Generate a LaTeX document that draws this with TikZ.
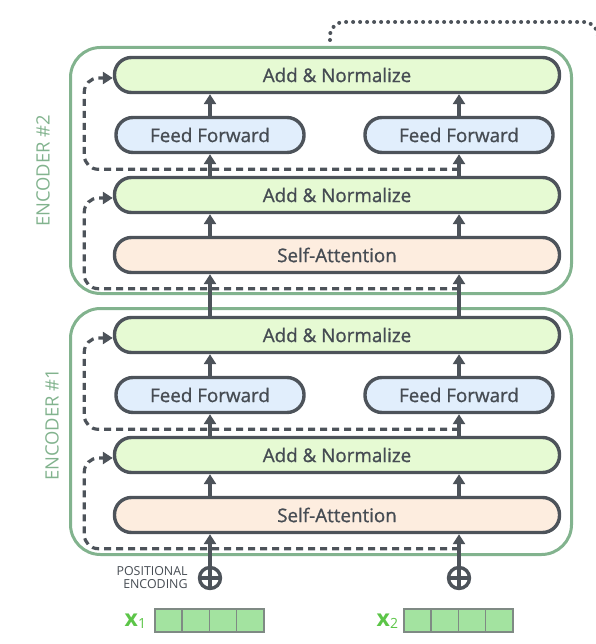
\documentclass[tikz,border=0pt]{standalone}
\usepackage{fontspec}
\setmainfont{Open Sans}
\newfontfamily\boxfont[FakeBold=1]{Open Sans}
\usetikzlibrary{arrows.meta}
\definecolor{boxline}{HTML}{4D535A}
\definecolor{boxtext}{HTML}{464C53}
\definecolor{anfill}{HTML}{E6FAD3}
\definecolor{fffill}{HTML}{E1EEFC}
\definecolor{safill}{HTML}{FDEDDF}
\definecolor{encgreen}{HTML}{82B38E}
\definecolor{xgreen}{HTML}{5CC548}
\definecolor{cellfill}{HTML}{A3E3A0}
\definecolor{cellline}{HTML}{7F8A84}
\begin{document}
\begin{tikzpicture}[x=1pt, y=-1pt, node distance=60pt, >={Triangle[length=10pt,width=12pt]},
  block/.style={rectangle, rounded corners=17pt, minimum height=35pt, text centered, draw=boxline, line width=3.4pt, text=boxtext, font=\boxfont\fontsize{18.8}{20}\selectfont},
  addnorm/.style={block, minimum width=445pt, fill=anfill},
  selfatt/.style={block, minimum width=445pt, fill=safill},
  ffwd/.style={block, minimum width=188pt, fill=fffill},
  encoder/.style={rectangle, rounded corners=30pt, minimum width=501pt, minimum height=246pt, draw=encgreen, line width=3pt},
  enclabel/.style={text=encgreen, rotate=90, font=\fontsize{18.4}{20}\selectfont},
  flow/.style={->, line width=3.4pt, draw=boxline},
  resid/.style={->, line width=3.2pt, draw=boxline, dash pattern=on 7pt off 5pt, rounded corners=14pt},
  posenc/.style={circle, draw=boxline, line width=3.4pt, inner sep=0pt, minimum size=21pt},
  cell/.style={rectangle, draw=cellline, fill=cellfill, line width=1.5pt, minimum width=27.25pt, minimum height=23pt, inner sep=0pt},
  vecname/.style={text=xgreen, inner sep=0pt, anchor=east}]
\useasboundingbox (0,0) rectangle (595,644);

% Рамки энкодеров
\node (enc2) [encoder] at (321,170.5) {};
\node (enc1) [encoder] at (321,431.5) {};
\node (enc2lbl) [enclabel] at (43,171) {ENCODER \#2};
\node (enc1lbl) [enclabel] at (52,425) {ENCODER \#1};

% Энкодер 2
\node (an2t) [addnorm] at (337,75) {Add \& Normalize};
\node (ff2a) [ffwd, below of=an2t, xshift=-127pt] {Feed Forward};
\node (ff2b) [ffwd, below of=an2t, xshift=122pt] {Feed Forward};
\node (an2b) [addnorm, below of=an2t, node distance=120pt] {Add \& Normalize};
\node (sa2) [selfatt, below of=an2b] {Self-Attention};

% Энкодер 1
\node (an1t) [addnorm, below of=sa2, node distance=80pt] {Add \& Normalize};
\node (ff1a) [ffwd, below of=an1t, xshift=-127pt] {Feed Forward};
\node (ff1b) [ffwd, below of=an1t, xshift=122pt] {Feed Forward};
\node (an1b) [addnorm, below of=an1t, node distance=120pt] {Add \& Normalize};
\node (sa1) [selfatt, below of=an1b] {Self-Attention};

% Входы
\node (pe1) [posenc, below of=sa1, node distance=63pt, xshift=-127pt] {};
\node (pe2) [posenc, below of=sa1, node distance=63pt, xshift=122pt] {};
\draw[line width=3.4pt, draw=boxline] (pe1.north) -- (pe1.south) (pe1.west) -- (pe1.east);
\draw[line width=3.4pt, draw=boxline] (pe2.north) -- (pe2.south) (pe2.west) -- (pe2.east);
\node (pelbl) [anchor=east, inner sep=0pt, align=right, text=boxtext, font=\fontsize{12.4}{13}\selectfont] at ([xshift=-10pt]pe1.west) {POSITIONAL\\ENCODING};

\foreach \i in {1,...,4} {
  \node (x1c\i) [cell] at (168.6+27.25*\i-27.25,620.5) {};
  \node (x2c\i) [cell] at (417.6+27.25*\i-27.25,620.5) {};
}
\node (x1) [vecname] at ([xshift=-8pt,yshift=-1pt]x1c1.west) {\fontsize{23}{23}\selectfont\bfseries x\raisebox{-2pt}{\fontsize{14}{14}\selectfont\mdseries 1}};
\node (x2) [vecname] at ([xshift=-5pt,yshift=-1pt]x2c1.west) {\fontsize{23}{23}\selectfont\bfseries x\raisebox{-2pt}{\fontsize{14}{14}\selectfont\mdseries 2}};

% Потоки вверх
\foreach \c/\e in {ff2a/2, ff2b/2} {
  \draw[flow] (sa\e.north -| \c) -- (an\e b.south -| \c);
  \draw[flow] (an\e b.north -| \c) -- (\c.south);
  \draw[flow] (\c.north) -- (an\e t.south -| \c);
}
\foreach \c/\e in {ff1a/1, ff1b/1} {
  \draw[flow] (sa\e.north -| \c) -- (an\e b.south -| \c);
  \draw[flow] (an\e b.north -| \c) -- (\c.south);
  \draw[flow] (\c.north) -- (an\e t.south -| \c);
}
\draw[flow] (an1t.north -| ff1a) -- (sa2.south -| ff2a);
\draw[flow] (an1t.north -| ff1b) -- (sa2.south -| ff2b);
\draw[flow] (pe1.north) -- (sa1.south -| pe1);
\draw[flow] (pe2.north) -- (sa1.south -| pe2);

% Остаточные связи
\draw[resid] ([yshift=6.5pt]an2b.north -| ff2b) -| ([xshift=-28.5pt,yshift=-3pt]an2t.west) -- ([yshift=-3pt]an2t.west);
\draw[resid] ([yshift=-14.5pt]sa2.south -| ff2b) -| ([xshift=-28.5pt,yshift=-3pt]an2b.west) -- ([yshift=-3pt]an2b.west);
\draw[resid] ([yshift=6.5pt]an1b.north -| ff1b) -| ([xshift=-28.5pt,yshift=-3pt]an1t.west) -- ([yshift=-3pt]an1t.west);
\draw[resid] ([yshift=-14.5pt]sa1.south -| ff1b) -| ([xshift=-28.5pt,yshift=-3pt]an1b.west) -- ([yshift=-3pt]an1b.west);

% Выход к следующему блоку
\coordinate (out) at (330,40);
\coordinate (next) at (598,45);
\draw[line width=4pt, draw=boxline, dash pattern=on 0pt off 7pt, line cap=round, rounded corners=14pt] (out) |- (next |- 0,22) -- (next);

\end{tikzpicture}
\end{document}
